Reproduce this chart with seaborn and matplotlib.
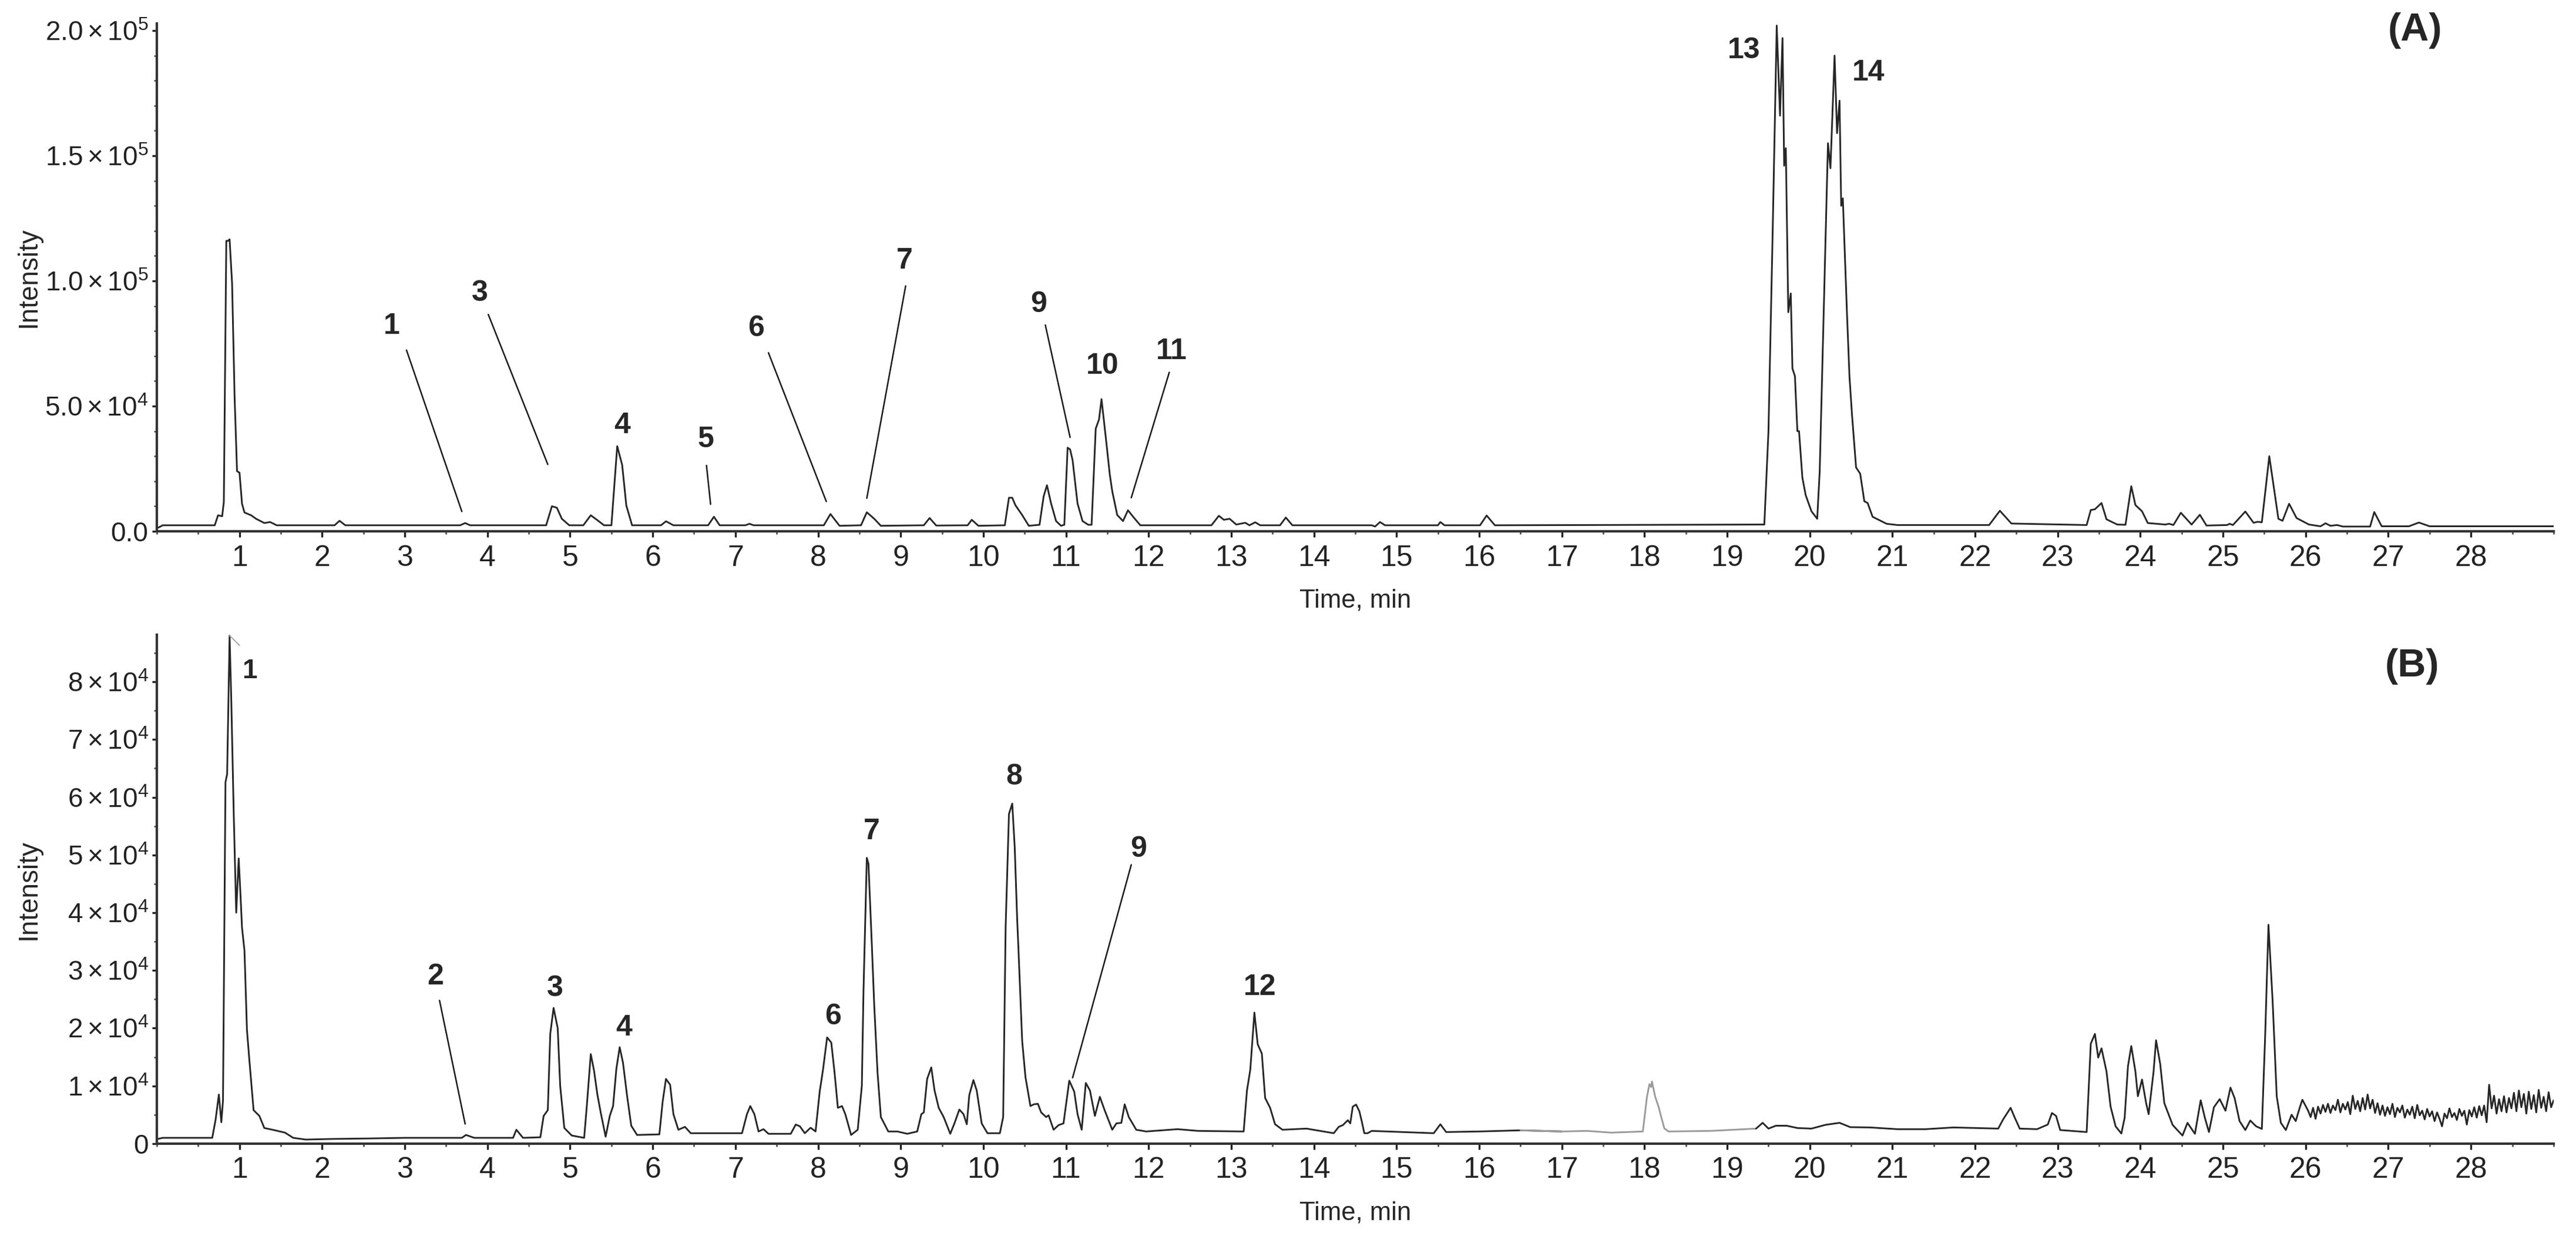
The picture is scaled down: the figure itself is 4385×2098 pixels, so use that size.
import matplotlib
matplotlib.use('Agg')
import matplotlib.pyplot as plt
import seaborn as sns
import pandas as pd
from matplotlib.ticker import FixedLocator, MultipleLocator

# --- panel (A) trace: time (min), intensity ---
a_time = [0.02, 0.07, 0.70, 0.74, 0.79, 0.81, 0.84, 0.86, 0.88, 0.91, 0.94, 0.97, 1.00, 1.03, 1.06,
          1.14, 1.20, 1.30, 1.37, 1.45, 2.15, 2.21, 2.28, 3.67, 3.73, 3.79, 4.71, 4.78, 4.84, 4.90,
          4.99, 5.16, 5.25, 5.34, 5.41, 5.50, 5.57, 5.63, 5.68, 5.75, 6.10, 6.16, 6.25, 6.67, 6.74,
          6.81, 7.12, 7.17, 7.22, 8.07, 8.15, 8.26, 8.52, 8.59, 8.68, 8.76, 9.28, 9.35, 9.43, 9.81,
          9.86, 9.94, 10.26, 10.31, 10.35, 10.39, 10.47, 10.55, 10.68, 10.73, 10.77, 10.82, 10.88,
          10.94, 10.98, 11.02, 11.05, 11.08, 11.14, 11.20, 11.27, 11.31, 11.36, 11.40, 11.43, 11.48,
          11.53, 11.56, 11.62, 11.69, 11.75, 11.82, 11.90, 12.76, 12.85, 12.91, 12.98, 13.06, 13.17,
          13.22, 13.29, 13.35, 13.59, 13.66, 13.74, 14.70, 14.74, 14.80, 14.86, 15.50, 15.53, 15.58,
          16.01, 16.09, 16.19, 19.45, 19.50, 19.55, 19.60, 19.64, 19.67, 19.69, 19.71, 19.74, 19.77,
          19.79, 19.82, 19.85, 19.87, 19.91, 19.95, 20.02, 20.09, 20.12, 20.18, 20.22, 20.25, 20.30,
          20.33, 20.36, 20.38, 20.40, 20.45, 20.48, 20.51, 20.56, 20.61, 20.66, 20.70, 20.76, 20.93,
          21.06, 22.17, 22.30, 22.44, 23.35, 23.40, 23.45, 23.53, 23.59, 23.72, 23.82, 23.89, 23.94,
          24.02, 24.09, 24.30, 24.35, 24.40, 24.49, 24.62, 24.72, 24.80, 25.05, 25.08, 25.12, 25.27,
          25.37, 25.42, 25.47, 25.56, 25.67, 25.72, 25.80, 25.89, 26.04, 26.18, 26.24, 26.30, 26.38,
          26.45, 26.78, 26.83, 26.92, 27.25, 27.37, 27.50, 29.00]
a_intensity = [1500, 2400, 2400, 6400, 6000, 11700, 116000, 116000, 116600, 99000, 54000, 24000,
               23400, 11000, 7500, 6400, 5000, 3300, 3700, 2400, 2400, 4200, 2400, 2400, 3300, 2400,
               2400, 10000, 9400, 5000, 2400, 2400, 6400, 4200, 2400, 2400, 34000, 26500, 10300,
               2400, 2400, 4000, 2400, 2400, 5800, 2400, 2400, 3000, 2400, 2400, 6900, 2200, 2400,
               7600, 5000, 2200, 2400, 5300, 2300, 2400, 4600, 2200, 2400, 13400, 13400, 10300,
               6500, 2200, 2600, 14000, 18400, 11100, 4100, 2200, 2600, 33400, 32700, 28400, 11100,
               4100, 2600, 2600, 41000, 44700, 52800, 38000, 22700, 16000, 6500, 4100, 8400, 5500,
               2400, 2400, 6200, 4600, 5000, 2700, 3400, 2400, 3600, 2400, 2400, 5500, 2400, 2400,
               1900, 3700, 2400, 2400, 3700, 2400, 2400, 6300, 2400, 2700, 40000, 118000, 202000,
               166000, 197000, 146000, 153000, 87500, 95000, 65000, 62000, 40000, 40000, 21500,
               14500, 8000, 5000, 24000, 102000, 155000, 145000, 190000, 159000, 172000, 130000,
               133000, 87000, 62000, 47000, 25500, 23000, 12000, 11300, 5800, 3000, 2500, 2500,
               8200, 3100, 2500, 8500, 8800, 11300, 4800, 2700, 2600, 18000, 10500, 8000, 3300,
               2700, 3000, 2500, 7400, 2700, 6600, 2300, 2500, 3000, 2500, 7900, 3400, 3800, 3600,
               30000, 5000, 4200, 11000, 5300, 2700, 2000, 3200, 2200, 2500, 1900, 1900, 7700,
               2000, 2000, 3500, 2000, 2000]

# --- panel (B) trace ---
b_time = [0.01, 0.07, 0.67, 0.71, 0.75, 0.78, 0.80, 0.83, 0.85, 0.88, 0.90, 0.93, 0.96, 0.99, 1.01,
          1.03, 1.06, 1.09, 1.12, 1.17, 1.24, 1.30, 1.40, 1.55, 1.65, 1.80, 2.09, 2.60, 3.00, 3.69,
          3.74, 3.84, 4.31, 4.35, 4.43, 4.64, 4.68, 4.73, 4.76, 4.80, 4.85, 4.88, 4.93, 5.02, 5.17,
          5.20, 5.25, 5.29, 5.33, 5.37, 5.43, 5.48, 5.52, 5.56, 5.60, 5.64, 5.69, 5.74, 5.81, 6.08,
          6.12, 6.16, 6.21, 6.25, 6.31, 6.39, 6.46, 7.08, 7.14, 7.18, 7.23, 7.28, 7.34, 7.40, 7.67,
          7.73, 7.78, 7.84, 7.91, 7.97, 8.02, 8.06, 8.11, 8.16, 8.20, 8.24, 8.29, 8.33, 8.40, 8.48,
          8.53, 8.55, 8.59, 8.61, 8.65, 8.68, 8.72, 8.76, 8.85, 8.96, 9.08, 9.20, 9.25, 9.28, 9.32,
          9.37, 9.41, 9.46, 9.52, 9.60, 9.65, 9.71, 9.76, 9.80, 9.83, 9.88, 9.92, 9.98, 10.05, 10.20,
          10.24, 10.27, 10.31, 10.35, 10.38, 10.41, 10.42, 10.47, 10.51, 10.57, 10.61, 10.66, 10.70,
          10.76, 10.79, 10.85, 10.91, 10.97, 11.04, 11.10, 11.14, 11.19, 11.24, 11.29, 11.35, 11.41,
          11.47, 11.56, 11.61, 11.67, 11.71, 11.76, 11.85, 11.97, 12.35, 12.60, 13.15, 13.19, 13.23,
          13.28, 13.32, 13.37, 13.41, 13.47, 13.53, 13.62, 13.91, 14.24, 14.30, 14.35, 14.41, 14.44,
          14.47, 14.51, 14.55, 14.58, 14.61, 14.65, 14.70, 15.45, 15.53, 15.60, 16.00, 16.50, 17.00,
          17.30, 17.60, 17.98, 18.03, 18.06, 18.08, 18.09, 18.13, 18.17, 18.20, 18.24, 18.29, 18.80,
          19.35, 19.43, 19.50, 19.59, 19.72, 19.85, 20.02, 20.19, 20.36, 20.49, 20.73, 21.06, 21.40,
          21.74, 22.28, 22.34, 22.43, 22.48, 22.54, 22.75, 22.88, 22.93, 22.98, 23.03, 23.35, 23.40,
          23.45, 23.49, 23.53, 23.59, 23.64, 23.70, 23.77, 23.81, 23.85, 23.89, 23.94, 23.97, 24.02,
          24.07, 24.10, 24.16, 24.19, 24.24, 24.29, 24.39, 24.46, 24.51, 24.57, 24.66, 24.73, 24.78,
          24.83, 24.89, 24.96, 25.03, 25.09, 25.14, 25.20, 25.27, 25.33, 25.40, 25.47, 25.51, 25.55,
          25.60, 25.65, 25.70, 25.76, 25.83, 25.88, 25.93, 25.96, 26.03, 26.06, 26.09, 26.12, 26.15,
          26.18, 26.21, 26.24, 26.27, 26.30, 26.33, 26.36, 26.39, 26.42, 26.45, 26.48, 26.51, 26.54,
          26.57, 26.60, 26.63, 26.66, 26.69, 26.72, 26.75, 26.78, 26.81, 26.84, 26.87, 26.90, 26.93,
          26.96, 26.99, 27.02, 27.05, 27.08, 27.11, 27.14, 27.17, 27.20, 27.23, 27.26, 27.29, 27.32,
          27.35, 27.38, 27.41, 27.44, 27.47, 27.50, 27.53, 27.56, 27.59, 27.62, 27.65, 27.68, 27.71,
          27.74, 27.77, 27.80, 27.83, 27.86, 27.89, 27.92, 27.95, 27.98, 28.01, 28.04, 28.07, 28.10,
          28.13, 28.16, 28.19, 28.22, 28.25, 28.28, 28.31, 28.34, 28.37, 28.40, 28.43, 28.46, 28.49,
          28.52, 28.55, 28.58, 28.61, 28.64, 28.67, 28.70, 28.73, 28.76, 28.79, 28.82, 28.85, 28.88,
          28.91, 28.94, 28.97, 29.00]
b_intensity = [800, 1000, 1000, 4100, 8500, 3700, 7500, 62600, 64000, 88000, 77000, 57000, 40000,
               49400, 43600, 37400, 33400, 19700, 14300, 5800, 4800, 2700, 2400, 1900, 1000, 700,
               800, 900, 1000, 1000, 1500, 1000, 1000, 2400, 1000, 1100, 4800, 5800, 19000, 23500,
               20000, 10000, 2700, 1400, 1000, 6100, 15500, 12600, 8500, 5400, 1200, 4800, 6500,
               13000, 16700, 14000, 8200, 3100, 1500, 1600, 7300, 11200, 10200, 5100, 2400, 2900,
               1800, 1800, 5100, 6500, 5100, 2100, 2500, 1700, 1700, 3300, 3000, 1800, 2750, 2100,
               9000, 12800, 18400, 17500, 12300, 6200, 6500, 5100, 1500, 2400, 10000, 26400, 49500,
               48500, 34800, 23900, 12300, 4600, 2100, 2100, 1700, 2100, 5100, 5400, 11200, 13200,
               9200, 6200, 4600, 1700, 3500, 5900, 5100, 3350, 8400, 11000, 9200, 3500, 1800, 1800,
               4600, 37500, 57100, 58900, 51300, 38600, 35400, 17800, 11500, 6500, 6800, 6900, 5400,
               4600, 4900, 2400, 3200, 3500, 10900, 9000, 5100, 2400, 10500, 9200, 4800, 8100, 5700,
               2400, 3500, 3600, 6800, 4600, 2400, 2100, 2500, 2200, 2100, 9200, 12800, 22700, 17200,
               15600, 7900, 6200, 3350, 2400, 2600, 1800, 2900, 3200, 4050, 3500, 6400, 6760, 5600,
               3800, 1800, 1800, 2200, 1800, 3350, 2000, 2100, 2300, 2100, 2200, 1900, 2100, 8100,
               10300, 9800, 10750, 8100, 6400, 4750, 2650, 2100, 2200, 2600, 3600, 2600, 3100, 3100,
               2700, 2600, 3250, 3600, 2850, 2800, 2500, 2500, 2800, 2600, 4200, 6200, 4500, 2600,
               2500, 3300, 5300, 4800, 2350, 2000, 17300, 19000, 14900, 16500, 12500, 6400, 3000,
               1750, 4500, 13400, 16900, 12500, 8200, 11100, 7000, 5100, 12500, 17900, 13800, 7000,
               3250, 2150, 1400, 3600, 1700, 7500, 4500, 2000, 6300, 7700, 5700, 9700, 7900, 3900,
               2350, 4000, 3000, 2550, 18700, 37900, 24800, 8200, 3600, 2350, 5000, 3900, 6300, 7600,
               5700, 4600, 6200, 4300, 6400, 5200, 6700, 5500, 6900, 5300, 6600, 5800, 7600, 5400,
               6900, 5900, 7200, 5100, 8300, 6000, 7400, 5600, 7900, 5900, 8500, 6100, 7600, 5300,
               7000, 5000, 6600, 4800, 6300, 5100, 6900, 4600, 6200, 5400, 6600, 4500, 5900, 5000,
               6400, 4400, 6700, 4900, 5700, 4200, 6000, 4700, 5600, 3900, 5400, 4300, 3000, 5200,
               4400, 6100, 4600, 5300, 4100, 6000, 4800, 5700, 3300, 5800, 4700, 6300, 4500, 6500,
               4900, 6600, 3700, 10200, 6100, 8300, 5200, 7700, 5600, 8200, 5400, 7900, 6100, 8800,
               5600, 9200, 6300, 8600, 5200, 9000, 6000, 8400, 5400, 9300, 6200, 8100, 5600, 8900,
               6300, 7500]
b_gray_window = (17.0, 19.35)

# --- peak labels: (text, time, intensity) ---
a_labels = [('1', 2.84, 82000), ('3', 3.91, 95000), ('4', 5.63, 42300), ('5', 6.64, 36600),
            ('6', 7.25, 81000), ('7', 9.05, 108000), ('9', 10.67, 90700), ('10', 11.44, 66000),
            ('11', 12.28, 71900), ('13', 19.20, 192000), ('14', 20.71, 183000)]
b_labels = [('2', 3.37, 28900), ('3', 4.82, 26900), ('4', 5.65, 20000), ('6', 8.18, 22000),
            ('7', 8.65, 54000), ('8', 10.37, 63500), ('9', 11.88, 51000), ('12', 13.35, 27100)]
b_label_small = ('1', 1.12, 81800)

# leader lines: (t_label, I_label, t_peak, I_peak)
a_leaders = [(3.02, 72400, 3.69, 7900), (4.01, 86600, 4.73, 26700), (6.65, 26300, 6.70, 10800),
             (7.40, 71300, 8.10, 11900), (9.06, 98000, 8.59, 13200), (10.75, 82400, 11.05, 37500),
             (12.25, 63500, 11.79, 13400)]
b_leaders = [(3.42, 24800, 3.73, 3400), (11.79, 48300, 11.08, 11400)]
b_gray_leader = (0.88, 88000, 1.00, 86300)

panel_tags = [('(A)', 27.32, 200000), ('(B)', 27.29, 82700)]

x_ticks = list(range(1, 29))
a_yticks = [0, 50000, 100000, 150000, 200000]
a_yticklabels = ['0.0', r'$5.0\times10^{4}$', r'$1.0\times10^{5}$', r'$1.5\times10^{5}$',
                 r'$2.0\times10^{5}$']
b_yticks = [0, 10000, 20000, 30000, 40000, 50000, 60000, 70000, 80000]
b_yticklabels = ['0'] + [r'$%d\times10^{4}$' % k for k in range(1, 9)]

sns.set_theme(style='ticks')
plt.rcParams['font.family'] = ['Liberation Sans', 'DejaVu Sans']
plt.rcParams['mathtext.fontset'] = 'custom'
plt.rcParams['mathtext.rm'] = 'Liberation Sans'
plt.rcParams['mathtext.it'] = 'Liberation Sans'
plt.rcParams['mathtext.default'] = 'rm'

line_col = '#262626'
fig = plt.figure(figsize=(4385 / 300, 2098 / 300), dpi=300)
axA = fig.add_axes([0.0609, 0.5691, 0.9304, 0.4118])
axB = fig.add_axes([0.0609, 0.0725, 0.9304, 0.4125])

sns.lineplot(x=a_time, y=a_intensity, ax=axA, color=line_col, lw=0.7, estimator=None, sort=False)

dfb = pd.DataFrame({'t': b_time, 'I': b_intensity})
g0, g1 = b_gray_window
sns.lineplot(data=dfb[dfb.t <= g0], x='t', y='I', ax=axB, color=line_col, lw=0.7,
             estimator=None, sort=False)
sns.lineplot(data=dfb[(dfb.t >= g0 - 0.5) & (dfb.t <= g1)], x='t', y='I', ax=axB, color='#9a9a9a',
             lw=0.7, estimator=None, sort=False)
sns.lineplot(data=dfb[dfb.t >= g1], x='t', y='I', ax=axB, color=line_col, lw=0.7,
             estimator=None, sort=False)

for ax, labels, leaders in [(axA, a_labels, a_leaders), (axB, b_labels, b_leaders)]:
    for txt, t, v in labels:
        ax.text(t, v, txt, ha='center', va='center', fontsize=12, fontweight='bold')
    for t0, v0, t1, v1 in leaders:
        ax.plot([t0, t1], [v0, v1], color='#1a1a1a', lw=0.6)
txt, t, v = b_label_small
axB.text(t, v, txt, ha='center', va='center', fontsize=11, fontweight='bold')
axB.plot(b_gray_leader[0::2], b_gray_leader[1::2], color='#aaaaaa', lw=0.5)

for ax, (tag, t, v) in zip([axA, axB], panel_tags):
    ax.text(t, v, tag, ha='center', va='center', fontsize=16, fontweight='bold')

axA.set_ylim(0, 202800)
axB.set_ylim(0, 88100)
for ax, yt, yl, ymin in [(axA, a_yticks, a_yticklabels, 10000), (axB, b_yticks, b_yticklabels, 5000)]:
    ax.set_xlim(0, 29)
    ax.xaxis.set_major_locator(FixedLocator(x_ticks))
    ax.xaxis.set_minor_locator(MultipleLocator(0.5))
    ax.set_xticklabels([str(k) for k in x_ticks])
    ax.yaxis.set_major_locator(FixedLocator(yt))
    ax.set_yticklabels(yl)
    ax.yaxis.set_minor_locator(MultipleLocator(ymin))
    ax.tick_params(axis='x', which='major', direction='out', length=2.4, width=0.8, pad=3,
                   labelsize=12, colors='#222222')
    ax.tick_params(axis='y', which='major', direction='out', length=2.0, width=0.8, pad=1.5,
                   labelsize=11, colors='#222222')
    ax.tick_params(which='minor', direction='out', length=1.2, width=0.6, colors='#444444')
    for s in ['top', 'right']:
        ax.spines[s].set_visible(False)
    for s in ['left', 'bottom']:
        ax.spines[s].set_linewidth(1.0)
        ax.spines[s].set_color('#333333')
    ax.set_xlabel('Time, min', fontsize=10.5, labelpad=7)
    ax.set_ylabel('Intensity', fontsize=11)
    ax.yaxis.set_label_coords(-0.048, 0.5)
    ax.patch.set_alpha(0)

fig.savefig('out.png', dpi=300, facecolor='white')
